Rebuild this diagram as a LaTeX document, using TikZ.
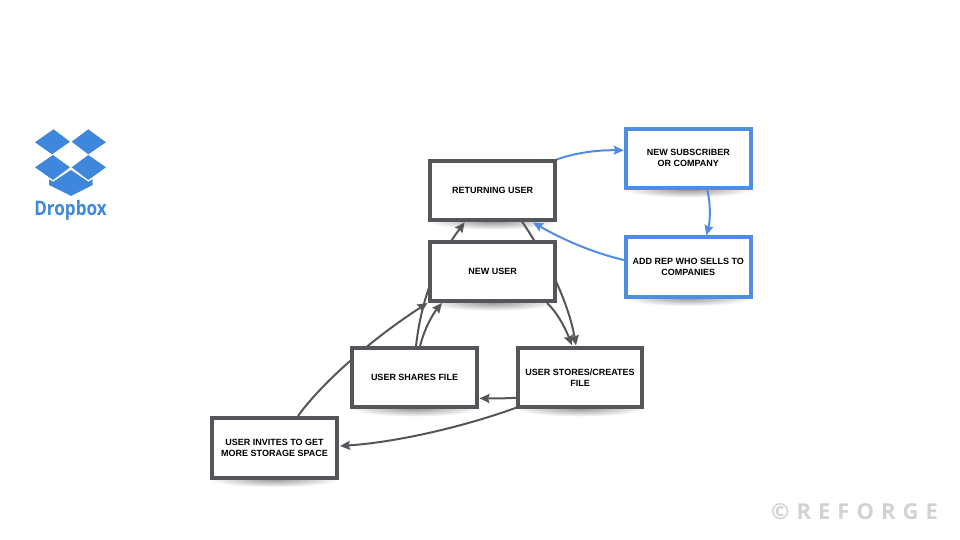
\documentclass[tikz,border=0pt]{standalone}
\usepackage{fontspec}
\setmainfont{Liberation Sans}
\newfontfamily\logofont{Open Sans}
\newfontfamily\markfont[LetterSpace=32]{Open Sans}
\usetikzlibrary{arrows.meta,calc,backgrounds}
\definecolor{boxgray}{HTML}{55565A}
\definecolor{boxblue}{HTML}{4F8CE4}
\definecolor{logoblue}{HTML}{3F87DC}
\definecolor{markgray}{HTML}{D2D2D2}
\tikzset{
  flowbox/.style={draw=boxgray,fill=white,line width=4pt,minimum width=124.5pt,minimum height=59.5pt,outer sep=0pt,inner sep=0pt,align=center,font=\fontsize{9}{11}\selectfont\bfseries,text=black},
  bluebox/.style={flowbox,draw=boxblue},
  conn/.style={draw=boxgray,line width=2pt,-{Stealth[length=10pt,width=9pt,inset=1.5pt]}},
  blueconn/.style={conn,draw=boxblue},
  softshadow/.style={inner color=black!42,outer color=white},
  logoshape/.style={fill=logoblue,draw=none},
}
\begin{document}
\begin{tikzpicture}[x=1pt,y=-1pt]
\useasboundingbox (0,0) rectangle (960,540);
\node[flowbox] (ret) at (492.7,190.4) {RETURNING USER};
\node[flowbox] (nu) at (492.7,271.5) {NEW USER};
\node[bluebox] (sub) at (688.3,158.3) {NEW SUBSCRIBER\\OR COMPANY};
\node[bluebox] (rep) at (688.3,266.8) {ADD REP WHO SELLS TO\\COMPANIES};
\node[flowbox] (sha) at (414.5,377.3) {USER SHARES FILE};
\node[flowbox] (sto) at (580,377.3) {USER STORES/CREATES\\FILE};
\node[flowbox] (inv) at (274.5,448) {USER INVITES TO GET\\MORE STORAGE SPACE};
\begin{scope}[on background layer]
  \foreach \n in {ret,nu,sub,rep,sha,sto,inv}
    \shade[softshadow] ($(\n.south)+(0,1)$) ellipse [x radius=66pt,y radius=8.5pt];
  % grey connectors
  \draw[conn] ($(ret.center)+(28.3,29.6)$) .. controls (545,255) and (568,300) .. ($(sto.center)+(-4,-32)$);
  \draw[conn] ($(nu.center)+(54.3,31.5)$) .. controls (558,313) and (566,330) .. ($(sto.center)+(-8,-32)$);
  \draw[conn] ($(sto.center)+(-64,20.5)$) .. controls (504,398.5) and (490,398.5) .. ($(sha.center)+(65,21)$);
  \draw[conn] ($(sto.center)+(-60,29)$) .. controls (470,425) and (400,442) .. ($(inv.center)+(65.5,-2)$);
  \draw[conn] ($(inv.center)+(23.5,-32)$) .. controls (320,385) and (370,340) .. ($(nu.center)+(-65.2,31.5)$);
  \draw[conn] ($(sha.center)+(1.5,-31)$) .. controls (420,310) and (432,265) .. ($(ret.center)+(-28,32)$);
  \draw[conn] ($(sha.center)+(5.5,-31)$) .. controls (424,330) and (432,315) .. ($(nu.center)+(-50.7,31.5)$);
  % blue connectors
  \draw[blueconn] ($(ret.center)+(64,-31)$) .. controls (578,152) and (600,150) .. ($(sub.center)+(-64.5,-8)$);
  \draw[blueconn] ($(sub.center)+(19,31.7)$) .. controls (711,205) and (710,222) .. ($(rep.center)+(18,-31.5)$);
  \draw[blueconn] ($(rep.center)+(-64.5,-6.8)$) .. controls (590,252) and (560,238) .. ($(ret.center)+(40.3,32)$);
\end{scope}
% Dropbox logo
\fill[logoshape] (35,142.3) -- (53.5,129.3) -- (70,141.7) -- (52,154.3) -- cycle;
\fill[logoshape] (71.7,141.7) -- (88.3,129.3) -- (106,142.3) -- (88.3,154.3) -- cycle;
\fill[logoshape] (35,167.3) -- (53,155) -- (70,167.3) -- (53,180) -- cycle;
\fill[logoshape] (71.7,167.3) -- (88.3,155) -- (106,167.3) -- (88.3,180) -- cycle;
\fill[logoshape] (71,170) -- (88.3,181.7) -- (92.7,179.3) -- (92.7,185) -- (71,196) -- (49,185) -- (49,179.3) -- (53.3,181.7) -- cycle;
\node[inner sep=0pt,text=logoblue,xscale=0.855,font=\fontsize{20}{20}\logofont\bfseries] (logotext) at (70.5,210) {Dropbox};
% watermark
\node[inner sep=0pt,text=markgray,anchor=west,font=\fontsize{22}{23}\markfont\bfseries] (mark) at (771,511.5) {©REFORGE};
\end{tikzpicture}
\end{document}
